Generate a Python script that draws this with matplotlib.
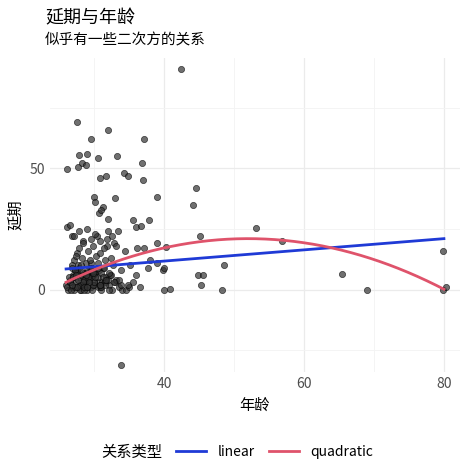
import numpy as np
import matplotlib
matplotlib.use("Agg")
import matplotlib.pyplot as plt
from matplotlib.offsetbox import HPacker

plt.rcParams['font.family'] = ['Noto Sans CJK SC', 'DejaVu Sans']

# scattered points (age, delay)
age_sparse = [42.4,27.6,32,29.6,37.1,27.8,29,30.6,33.3,26.1,27.7,28.3,28.9,36.8,34.3,34.8,30.9,31.7,37,
              44.6,44.1,30,30.1,33,39,31.3,30.7,31,32,35.6,37.8,36,36.7,26.1,26.6,26.9,45.1,
              48.6,44.9,45.6,45.3,48.3,40,40.8,39.8,40,39,37.7,38,39,40.3,37.1,36.2,33.9,
              53.1,56.8,65.5,69,79.8,79.8,80.3]
delay_sparse = [91,69,66,62,62,55.5,56,54.4,55,49.6,50.5,52,51.5,52,48,47,46,47,45,
                42,35,38,36,37.6,38,34,31.7,33,29,28.8,28.8,26,26.3,26,26.5,22,22,
                10,5.8,6,2,0,0,0.4,8,9,11,9,12,19,17.5,17,17,-31,
                25.5,20.2,6.3,0,15.8,0,1]
# dense cluster
age_cluster = [26,26.3,26.5,26.8,27,27.2,27.4,27.6,27.8,28,28.2,28.4,28.6,28.8,29,29.2,29.4,29.6,29.8,30,
               26.2,26.6,27,27.3,27.7,28.1,28.5,28.9,29.3,29.7,30.1,30.5,30.9,31.3,31.7,32.1,32.5,33,33.5,34,
               27.1,27.5,27.9,28.3,28.7,29.1,29.5,29.9,30.3,30.7,31.1,31.5,31.9,32.3,32.7,33.2,33.8,34.5,35,35.5,
               26.4,26.9,27.4,27.9,28.4,28.9,29.4,29.9,30.4,30.9,31.4,31.9,32.4,32.9,33.4,33.9,34.4,35.2,36,36.5,
               27.2,27.8,28.4,29,29.6,30.2,30.8,31.4,32,32.6,33.2,27.5,28.5,29.5,30.5,31.5,28,29,30,31,
               26.7,27.3,28.6,29.8,31,32.2,33.6,34.8,28.2,29.2,
               26.5,27,27.5,28,28.5,29,29.5,30,30.5,31,31.5,32,26.8,27.6,28.4,29.2,30,30.8,31.6,32.4,
               27.3,28.1,28.9,29.7,30.5,31.3,32.1,32.9,26.9,27.7,28.5,29.3,30.1,30.9,31.7,27.4,28.2,29,29.8,30.6]
delay_cluster = [2,0,4,1,6,0,3,8,1,5,0,2,7,3,0,4,9,1,6,2,
                 1,3,5,8,10,2,6,11,4,0,7,3,1,9,5,2,0,3,1,0,
                 12,15,9,13,4,16,11,6,14,8,3,12,18,6,10,4,2,0,1,3,
                 5,10,14,17,20,7,12,18,22,15,9,21,13,19,24,8,16,10,6,1,
                 22,24,19,25,21,23,20,17,24,22,18,7,2,5,1,3,0,1,3,0,
                 0,1,0,2,1,0,4,2,6,8,
                 3,5,7,2,4,6,8,3,5,7,2,4,9,1,3,5,7,2,4,6,
                 8,10,6,9,11,5,7,3,2,4,1,3,5,2,4,6,8,1,7,9]

# fitted curves
fit_range = [26, 80]
lin_coef = [0.2315, 2.48]          # slope, intercept
quad_vertex = (52.0, 21.0, -0.0266)  # x0, y0, a

ages = np.array(age_sparse + age_cluster)
delays = np.array(delay_sparse + delay_cluster)

fig = plt.figure(figsize=(4.74, 4.76), dpi=100)
ax = fig.add_axes([50/474, 1-372/476, 410/474, 314/476])
ax.scatter(ages, delays, s=20, color='#333333', alpha=0.7, edgecolors='black',
           linewidths=0.5, zorder=3)

xs = np.linspace(fit_range[0], fit_range[1], 200)
x0, y0, a = quad_vertex
ax.plot(xs, np.polyval(lin_coef, xs), color='#1f3ad6', lw=2, zorder=4, label='linear')
ax.plot(xs, a*(xs-x0)**2 + y0, color='#df536b', lw=2, zorder=4, label='quadratic')

ax.set_xlim(23.7, 82.3)
ax.set_ylim(-34, 95.5)
ax.set_xticks([40, 60, 80])
ax.set_xticks([30, 50, 70], minor=True)
ax.set_yticks([0, 50])
ax.set_yticks([-25, 25, 75], minor=True)
ax.grid(which='major', color='#ebebeb', lw=0.9)
ax.grid(which='minor', color='#f3f3f3', lw=0.6)
ax.set_axisbelow(True)
for s in ax.spines.values():
    s.set_visible(False)
ax.tick_params(which='both', length=0, labelsize=10, colors='#4d4d4d')
ax.set_xlabel('年龄', fontsize=11)
ax.set_ylabel('延期', fontsize=11)

fig.text(45/474, 1-18/476, '延期与年龄', fontsize=13, va='center')
fig.text(45/474, 1-40/476, '似乎有一些二次方的关系', fontsize=10.5, va='center')

leg = fig.legend(loc='center', bbox_to_anchor=(0.5, 1-452/476), ncol=2, frameon=False,
                 title='关系类型', fontsize=10, title_fontsize=11, handlelength=2.2,
                 columnspacing=1.0)
lb = leg._legend_box
lb.__class__ = HPacker
lb.sep = 10
lb.align = 'center'

fig.savefig('out.png', dpi=100)
